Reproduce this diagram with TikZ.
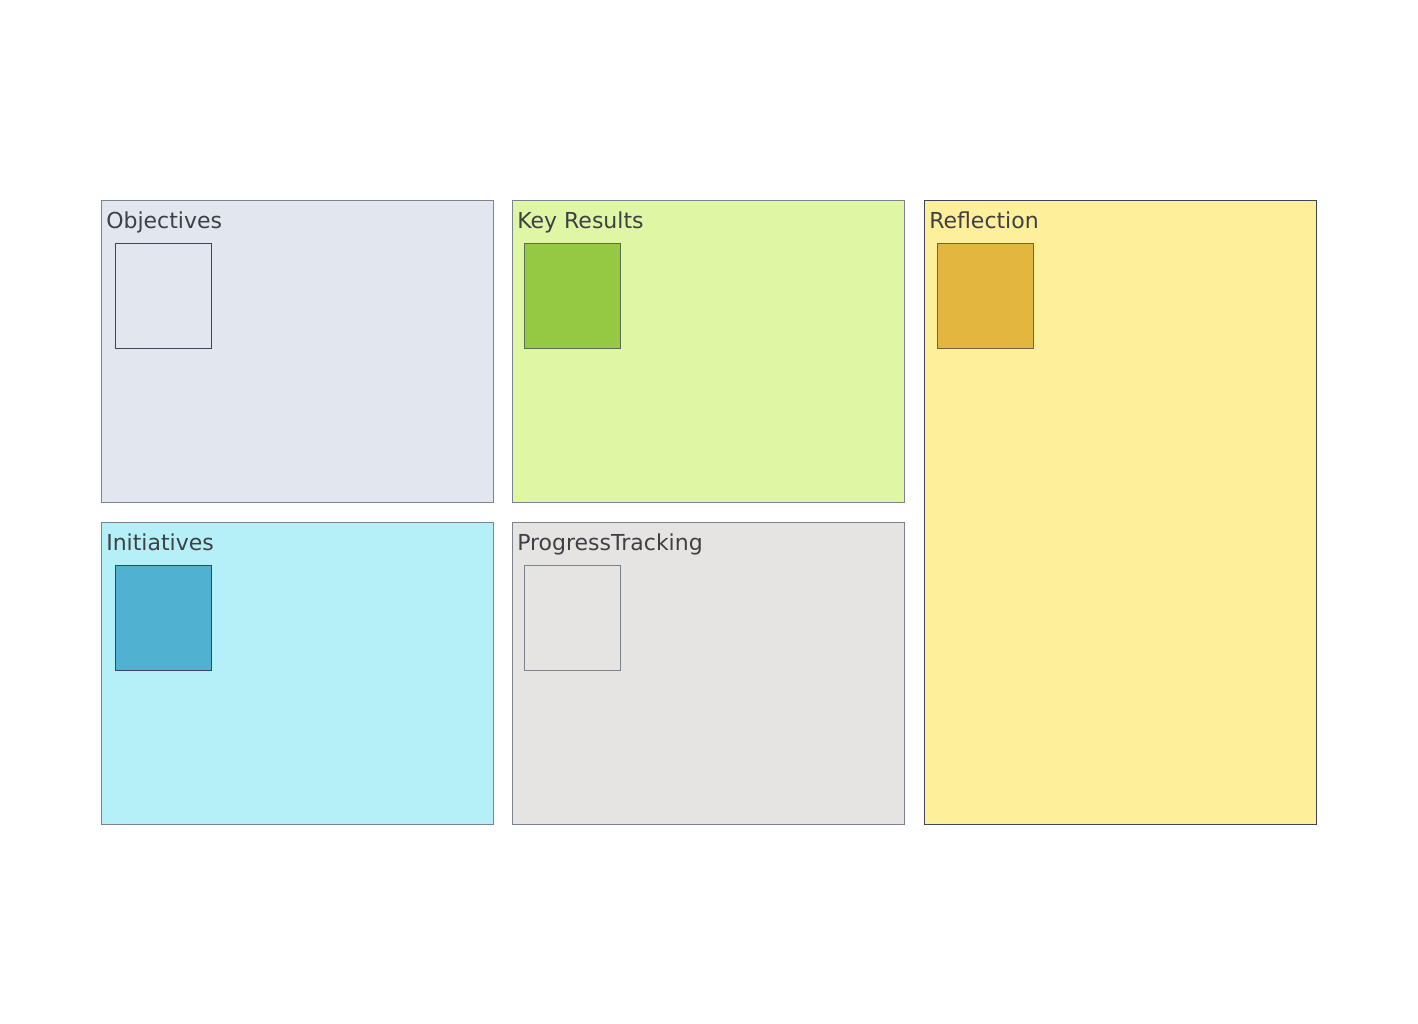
\documentclass[tikz,border=0pt]{standalone}
\usepackage{fontspec}
\setmainfont{DejaVu Sans}
\usetikzlibrary{calc,positioning}

\definecolor{txtgray}{HTML}{3F4046}
\definecolor{edgegray}{HTML}{7C828E}
\definecolor{edgedark}{HTML}{3C4456}
\definecolor{objfill}{HTML}{E2E6EF}
\definecolor{keyfill}{HTML}{DFF7A5}
\definecolor{reffill}{HTML}{FEF09A}
\definecolor{inifill}{HTML}{B5F0F8}
\definecolor{profill}{HTML}{E5E4E3}
\definecolor{keynote}{HTML}{96C943}
\definecolor{refnote}{HTML}{E2B63F}
\definecolor{ininote}{HTML}{50B1D1}

\begin{document}
\begin{tikzpicture}[x=0.75pt,y=-0.75pt]
	\tikzstyle{panel}=[draw=edgegray, line width=0.75pt, rectangle, anchor=north west,
	inner sep=0, outer sep=0, minimum width=294pt]
	\tikzstyle{note}=[draw=edgegray, line width=0.75pt, rectangle, anchor=north west,
	inner sep=0, outer sep=0, minimum width=72pt, minimum height=78.75pt]
	\tikzstyle{title}=[anchor=base west, inner sep=0, text=txtgray,
	font=\fontsize{16.5}{20}\selectfont]
	\useasboundingbox (0,0) rectangle (1418,1024);
	% panels
	\node[panel, fill=objfill, minimum height=226.5pt] (objectives) at (101,200) {};
	\node[panel, fill=keyfill, minimum height=226.5pt] (keyresults) at (512,200) {};
	\node[panel, fill=reffill, draw=edgedark, minimum height=468pt] (reflection) at (924,200) {};
	\node[panel, fill=inifill, minimum height=226.5pt] (initiatives) at (101,522) {};
	\node[panel, fill=profill, minimum height=226.5pt] (progress) at (512,522) {};
	% titles
	\node[title] (objT) at (106,228) {Objectives};
	\node[title] (keyT) at (517,228) {Key Results};
	\node[title] (refT) at (929,228) {Reflection};
	\node[title] (iniT) at (106,550) {Initiatives};
	\node[title] (proT) at (517,550) {ProgressTracking};
	% notes
	\node[note, fill=objfill, draw=edgedark] (objN) at (115,243) {};
	\node[note, fill=keynote, draw={rgb,255:red,90;green,110;blue,80}] (keyN) at (524,243) {};
	\node[note, fill=refnote, draw={rgb,255:red,110;green,100;blue,70}] (refN) at (937,243) {};
	\node[note, fill=ininote, draw=edgedark] (iniN) at (115,565) {};
	\node[note, fill=profill] (proN) at (524,565) {};
\end{tikzpicture}
\end{document}
